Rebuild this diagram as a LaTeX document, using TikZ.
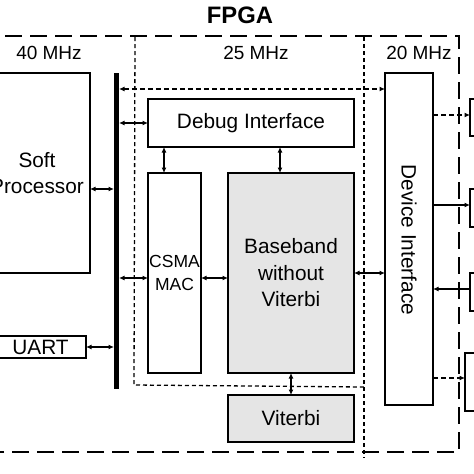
\documentclass[tikz,border=0pt]{standalone}
\usepackage{fontspec}
\setmainfont{Liberation Sans}
\usetikzlibrary{arrows.meta}
\tikzset{
  blk/.style={draw, line width=1.4pt, inner sep=0pt, outer sep=0pt, align=center,
    font=\fontsize{20.8}{26.5}\selectfont},
  grayblk/.style={blk, fill=black!10},
  lbl/.style={inner sep=0pt, font=\fontsize{19}{22}\selectfont},
  conn/.style={line width=1.1pt, {Latex[length=5.5pt,width=5pt]}-{Latex[length=5.5pt,width=5pt]}},
  oneway/.style={line width=1.1pt, -{Latex[length=5.5pt,width=5pt]}},
  dconn/.style={conn, dash pattern=on 5pt off 3pt},
  doneway/.style={oneway, dash pattern=on 5pt off 3pt},
  fpgabox/.style={line width=2.4pt, dash pattern=on 17pt off 8pt},
  clockbox/.style={line width=1.3pt, dash pattern=on 4pt off 3pt},
}
\begin{document}
\begin{tikzpicture}[x=1pt,y=-1pt]
\clip (0,0) rectangle (474,474);
\fill[white] (0,0) rectangle (474,474);
% FPGA outline
\draw[fpgabox] (-20,36) -- (459,36) -- (459,452) -- (-20,452);
\node[inner sep=0pt, font=\bfseries\fontsize{23.8}{26}\selectfont] (fpga) at (240,15) {FPGA};
% clock domain boundaries
\draw[clockbox] (135,37) -- (134,385) -- (364,387);
\draw[clockbox] (364,37) -- (364,458);
\node[lbl] (c40) at (49,53) {40 MHz};
\node[lbl] (c25) at (256,53) {25 MHz};
\node[lbl] (c20) at (419,53) {20 MHz};
% blocks
\node[blk, minimum width=106pt, minimum height=200pt] (soft) at (37,173) {Soft\\Processor};
\node[blk, minimum width=91pt, minimum height=22pt] (uart) at (40.5,347) {UART};
\node[fill=black, inner sep=0pt, outer sep=0pt, minimum width=5pt, minimum height=316pt] (bus) at (116.5,231) {};
\node[blk, minimum width=206pt, minimum height=48pt] (debug) at (251,123) {Debug Interface};
\node[blk, minimum width=53pt, minimum height=200pt, font=\fontsize{17.5}{23}\selectfont] (csma) at (174.5,273) {CSMA\\MAC};
\node[grayblk, minimum width=126pt, minimum height=200pt] (base) at (291,273) {Baseband\\without\\Viterbi};
\node[grayblk, minimum width=126pt, minimum height=47pt] (vit) at (291,418.5) {Viterbi};
\node[blk, minimum width=48pt, minimum height=332pt] (dev) at (409,239) {};
\node[inner sep=0pt, rotate=-90, font=\fontsize{20.8}{24}\selectfont] (devtxt) at (409,240) {Device Interface};
\node[blk, minimum width=20pt, minimum height=37pt] (r1) at (480,117.5) {};
\node[blk, minimum width=20pt, minimum height=38pt] (r2) at (480,208) {};
\node[blk, minimum width=20pt, minimum height=38pt] (r3) at (480,292) {};
\node[blk, minimum width=25pt, minimum height=58pt] (r4) at (477.5,382) {};
% connectors
\draw[dconn] (bus.east |- 0,89) -- (dev.west |- 0,89);
\draw[conn] (bus.east |- debug.west) -- (debug.west);
\draw[conn] (soft.east |- 0,189) -- (bus.west |- 0,189);
\draw[conn] (bus.east |- 0,278) -- (csma.west |- 0,278);
\draw[conn] (csma.east |- 0,278) -- (base.west |- 0,278);
\draw[conn] (uart.east) -- (bus.west |- uart.east);
\draw[conn] (debug.south -| 164,0) -- (csma.north -| 164,0);
\draw[conn] (debug.south -| 280,0) -- (base.north -| 280,0);
\draw[conn] (base.east |- 0,273) -- (dev.west |- 0,273);
\draw[conn] (base.south) -- (vit.north);
\draw[doneway] (dev.east |- 0,115) -- (r1.west |- 0,115);
\draw[oneway] (dev.east |- 0,205) -- (r2.west |- 0,205);
\draw[oneway] (r3.west |- 0,289) -- (dev.east |- 0,289);
\draw[doneway] (dev.east |- 0,378) -- (r4.west |- 0,378);
\end{tikzpicture}
\end{document}
